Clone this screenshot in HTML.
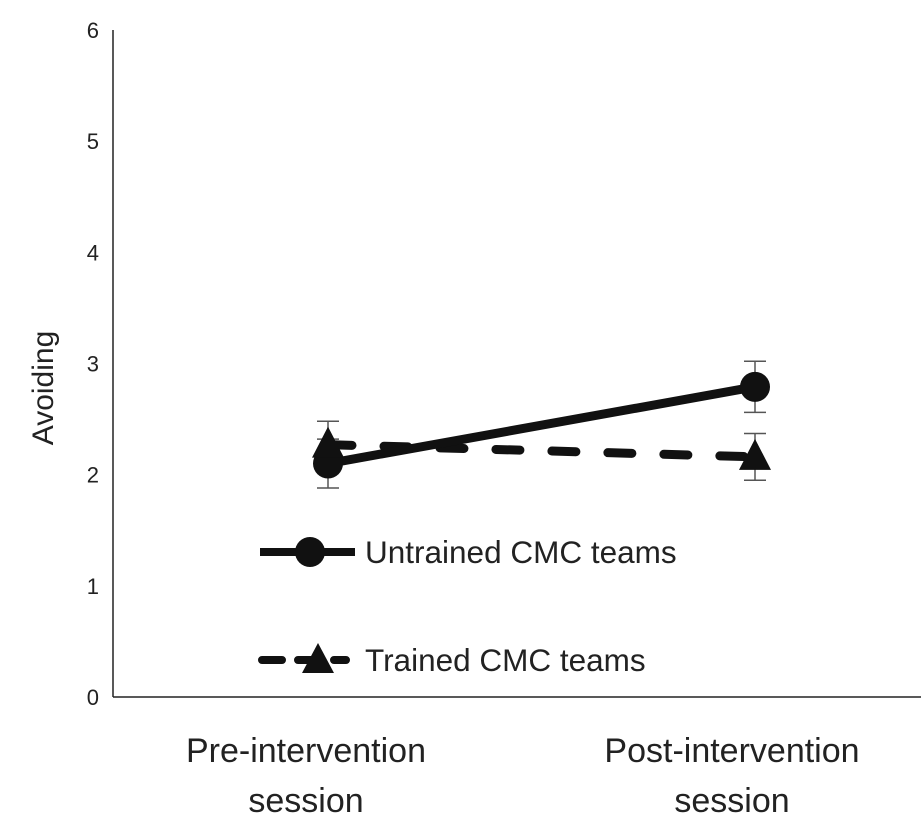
<!DOCTYPE html>
<html><head><meta charset="utf-8"><style>
body{margin:0;background:#fff;}
svg{display:block;font-family:"Liberation Sans",sans-serif;}
</style></head><body>
<svg id="chart" width="921" height="829" viewBox="0 0 921 829">
<g id="axes"></g><g id="marks"></g>
<g>
<line x1="260" y1="552" x2="355" y2="552" stroke="#111" stroke-width="8"/>
<circle cx="310" cy="552" r="15" fill="#111"/>
<text x="365" y="563" font-size="31.5" fill="#222">Untrained CMC teams</text>
<line x1="262" y1="660" x2="346" y2="660" stroke="#111" stroke-width="8" stroke-dasharray="20,16" stroke-linecap="round"/>
<polygon points="318,643 302,673 334,673" fill="#111"/>
<text x="365" y="671" font-size="31.5" fill="#222">Trained CMC teams</text>
</g>
</svg>
<script>
const categories=["Pre-intervention session","Post-intervention session"];
const untrained=[2.1,2.79];
const untrainedErr=[0.22,0.23];
const trained=[2.27,2.16];
const trainedErr=[0.21,0.21];
const yTicks=[0,1,2,3,4,5,6];
const NS="http://www.w3.org/2000/svg";
const y=v=>697-v*111.17;
const xs=[328,755];
const x=i=>xs[i];
function mk(t,a,p){const e=document.createElementNS(NS,t);for(const k in a)e.setAttribute(k,a[k]);p.appendChild(e);return e;}
const ax=document.getElementById('axes'),mg=document.getElementById('marks');
let l=mk('line',{x1:113,y1:30,x2:113,y2:697,stroke:'#222','stroke-width':1.5},ax);


l=mk('line',{x1:113,y1:697,x2:921,y2:697,stroke:'#222','stroke-width':1.5},ax);


yTicks.forEach(v=>{const t=mk('text',{x:99,y:y(v)+8,'font-size':22,'text-anchor':'end',fill:'#222'},ax);t.textContent=v;

});
let yt=mk('text',{x:0,y:0,'font-size':30,'text-anchor':'middle',fill:'#222',transform:'translate(53,388) rotate(-90)'},ax);yt.textContent='Avoiding';


const cx=[306,732];
categories.forEach((c,i)=>{const w=c.split(' ');const t=mk('text',{x:cx[i],y:762,'font-size':34,'text-anchor':'middle',fill:'#222'},ax);t.textContent=w[0];


const t2=mk('text',{x:cx[i],y:812,'font-size':34,'text-anchor':'middle',fill:'#222'},ax);t2.textContent=w[1];

});
function err(vals,errs,name){vals.forEach((v,i)=>{const g=mk('g',{stroke:'#555','stroke-width':1.5},mg);


mk('line',{x1:x(i),x2:x(i),y1:y(v-errs[i]),y2:y(v+errs[i])},g);
mk('line',{x1:x(i)-11,x2:x(i)+11,y1:y(v-errs[i]),y2:y(v-errs[i])},g);
mk('line',{x1:x(i)-11,x2:x(i)+11,y1:y(v+errs[i]),y2:y(v+errs[i])},g);});}
err(untrained,untrainedErr,'untrained');err(trained,trainedErr,'trained');
let p=mk('polyline',{points:trained.map((v,i)=>x(i)+','+y(v)).join(' '),fill:'none',stroke:'#111','stroke-width':9,'stroke-dasharray':'24,32','stroke-linecap':'round'},mg);


p=mk('polyline',{points:untrained.map((v,i)=>x(i)+','+y(v)).join(' '),fill:'none',stroke:'#111','stroke-width':9},mg);


untrained.forEach((v,i)=>{const c=mk('circle',{cx:x(i),cy:y(v),r:15,fill:'#111'},mg);

});
trained.forEach((v,i)=>{const X=x(i),Y=y(v);const t=mk('polygon',{points:`${X},${Y-18} ${X-16},${Y+13} ${X+16},${Y+13}`,fill:'#111'},mg);

});
</script>
</body></html>
